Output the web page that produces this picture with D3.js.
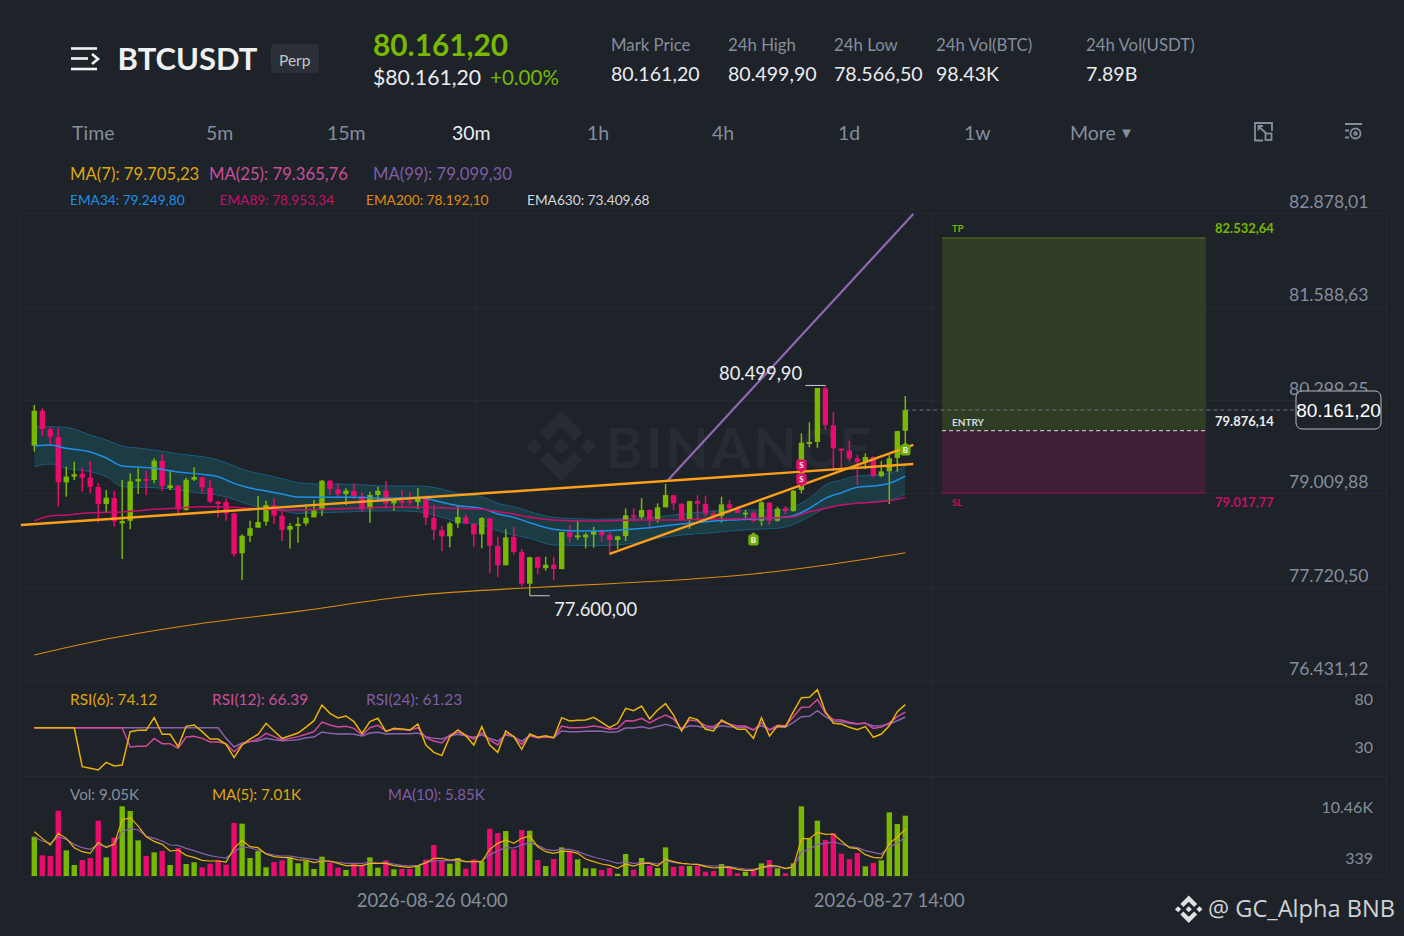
<!DOCTYPE html>
<html>
<head>
<meta charset="utf-8">
<style>
  html, body { margin: 0; padding: 0; background: #1e2229; overflow: hidden; }
  svg { display: block; }
  text { font-family: Lato, "Noto Sans", sans-serif; }
</style>
<script src="https://cdnjs.cloudflare.com/ajax/libs/d3/7.8.5/d3.min.js"></script>
</head>
<body>
<svg width="1404" height="936"></svg>
<script>
// candles, 30m
const candleOpen = [
  79668,80151,79895,79788,79164,79242,79279,79228,79100,78865,
  78948,78598,78634,79178,79210,79196,79458,79085,79117,78782,
  79200,79232,79090,78897,78892,78736,78185,78427,78538,78622,
  78847,78704,78510,78561,78598,78681,78792,79186,79067,79003,
  79044,78975,78800,78989,79048,78874,78910,78906,78892,78957,
  78672,78502,78419,78598,78681,78589,78447,78668,78285,78020,
  78410,78203,77766,78134,77980,78028,77968,78483,78405,78405,
  78442,78492,78437,78368,78423,78709,78686,78782,78658,78819,
  78985,78869,78653,78906,78865,78736,78699,78860,78805,78722,
  78745,78634,78883,78634,78805,78768,79058,79692,79720,80460,
  79950,79628,79600,79495,79445,79513,79251,79315,79500,79875
];
const candleClose = [
  80151,79899,79793,79164,79242,79275,79228,79104,78865,78952,
  78626,78630,79178,79210,79186,79462,79113,79122,78792,79200,
  79237,79095,78897,78865,78736,78175,78427,78532,78617,78851,
  78704,78510,78561,78593,78676,78778,79186,79072,79003,79048,
  78975,78791,78989,79048,78874,78920,78883,78883,78957,78676,
  78510,78419,78598,78685,78593,78447,78672,78290,78020,78405,
  78203,77766,78130,77986,78028,77968,78479,78410,78433,78442,
  78497,78433,78368,78419,78709,78686,78782,78658,78819,78989,
  78874,78644,78906,78869,78731,78699,78860,78805,78745,78745,
  78630,78888,78634,78800,78768,79048,79710,79720,80465,79955,
  79633,79600,79495,79445,79513,79251,79315,79495,79870,80161.2
];
const candleHigh = [
  80230,80184,79922,79917,79380,79449,79362,79458,79150,79058,
  79048,79196,79288,79357,79324,79495,79550,79334,79122,79228,
  79371,79237,79196,78910,78943,78745,78447,78634,78975,78910,
  78943,78772,78598,78681,78865,78920,79196,79196,79150,79081,
  79150,79021,79035,79104,79178,78943,79058,79035,79081,78989,
  78851,78561,78621,78851,78727,78598,78681,78676,78414,78516,
  78552,78244,78138,78138,78138,78138,78479,78575,78644,78469,
  78552,78516,78483,78428,78805,78805,78943,78791,78874,79141,
  78989,78874,78910,78985,78980,78772,78966,78920,78837,78782,
  78768,78906,78892,78828,78837,79058,79839,79992,80465,80499.9,
  80130,79633,79740,79540,79565,79527,79458,79540,79875,80354
];
const candleLow = [
  79587,79802,79692,78828,78966,79196,79035,79012,78607,78736,
  78552,78106,78516,79003,78985,79150,79044,79058,78713,78772,
  79182,79012,78874,78681,78634,78138,77816,78340,78538,78566,
  78589,78354,78253,78331,78566,78681,78700,78989,78957,78851,
  78929,78759,78607,78897,78796,78772,78819,78851,78796,78575,
  78368,78216,78268,78538,78589,78276,78255,77918,77854,78020,
  78166,77725,77600,77895,77945,77816,77964,78331,78368,78253,
  78262,78345,78161,78244,78354,78621,78644,78524,78607,78819,
  78782,78644,78524,78653,78690,78658,78607,78736,78736,78644,
  78607,78566,78575,78621,78727,78759,79012,79647,79640,79885,
  79320,79320,79460,79127,79348,79233,79233,78865,79310,79665
];

// EMA ribbon, sampled at these candles
const emaIndex = [0,2,4,7,9,11,13,15,18,21,23,25,27,29,31,33,36,40,44,48,51,53,56,58,60,62,65,67,70,75,78,81,84,87,90,93,95,97,99,101,103,105,107,109];
const ema34 = [79665,79678,79633,79582,79499,79389,79375,79357,79306,79275,79242,79150,79085,79044,79003,78961,78957,78957,78943,78957,78888,78842,78805,78727,78681,78607,78516,78497,78492,78520,78552,78589,78621,78644,78658,78676,78704,78805,78943,79021,79095,79113,79150,79249.8];
const emaUpper = [79927,79931,79922,79816,79747,79665,79637,79610,79555,79518,79472,79389,79311,79265,79214,79159,79141,79137,79113,79113,79072,79012,78966,78875,78828,78759,78681,78668,78654,78668,78690,78727,78759,78782,78782,78782,78828,78943,79127,79196,79251,79265,79288,79389];
const emaLower = [79380,79417,79357,79311,79242,79104,79095,79090,79058,79012,78989,78930,78851,78805,78772,78736,78745,78759,78772,78759,78681,78621,78575,78497,78437,78392,78300,78296,78290,78323,78392,78437,78461,78492,78516,78530,78585,78690,78805,78851,78875,78897,78920,79003];
const ema89 = [78635,78700,78713,78745,78750,78755,78772,78792,78810,78828,78828,78820,78805,78792,78782,78782,78792,78805,78820,78820,78813,78805,78792,78759,78727,78681,78644,78635,78630,78644,78644,78644,78658,78658,78668,78676,78690,78759,78805,78851,78875,78888,78910,78953.34];
const ema200Index = [0,8,20,33,47,62,72,90,100,109];
const ema200 = [76783,76980,77203,77384,77597,77711,77766,77900,78038,78192.1];

// drawn trendlines: candle index and price at each end
const trendA = [[-1.67,78575],[110,79417]];
const trendB = [[72,78176],[110,79679]];
const trendC = [[79.2,79183],[110,82864]];

// trade zone
const zoneStart = 113.6, zoneEnd = 146.6;
const tpPrice = 82532.64, entryPrice = 79876.14, slPrice = 79017.77;
const lastPrice = 80161.20, highPrice = 80499.90, lowPrice = 77600.00;

const buySignals = [[90,78368],[109,79610]];
const sellSignals = [[96,79402],[96,79209]];

const priceTicks = [82878.01,81588.63,80299.25,79009.88,77720.50,76431.12];
const rsiTicks = [80,30];
const volTicks = [10460,339];
const timeTicks = [[49.8,'2026-08-26 04:00'],[107,'2026-08-27 14:00']];
const tabs = [['Time',72],['5m',206],['15m',327],['30m',452],['1h',587],['4h',712],['1d',838],['1w',964],['More',1070]];
const stats = [['Mark Price','80.161,20',611],['24h High','80.499,90',728],['24h Low','78.566,50',834],['24h Vol(BTC)','98.43K',936],['24h Vol(USDT)','7.89B',1086]];

const rsi6 = [
  50,50,50,50,50,50,9.5,7.8,6.0,14.0,
  10.2,11.2,46.0,47.4,47.4,60.6,43.2,43.2,30.3,51.5,
  52.9,46.0,38.3,38.3,32.8,18.9,32.1,38.3,43.2,54.7,
  46.7,39.0,41.8,44.6,50.8,57.4,73.8,65.1,60.2,62.3,
  56.4,44.2,56.4,59.9,46.0,49.4,48.7,47.7,54.0,32.1,
  24.4,21.0,40.8,47.7,41.8,32.1,51.2,32.1,24.4,46.7,
  40.8,27.6,43.5,40.1,41.8,39.7,60.6,57.1,57.8,58.1,
  60.9,55.7,50.1,54.7,70.3,67.8,72.7,59.2,68.5,75.1,
  63.3,46.7,60.9,58.5,48.4,46.7,58.1,53.6,48.4,48.4,
  39.0,60.6,41.5,52.2,51.2,66.8,81.4,81.7,89.7,66.8,
  54.7,54.0,50.5,48.1,51.2,40.1,43.5,52.2,66.8,74.12
];
const rsi12 = [
  50,50,50,50,50,50,50,50,50,50,
  50,50,30.0,30.7,30.7,39.0,33.5,33.5,28.6,40.4,
  41.1,39.0,35.2,35.2,33.5,25.1,32.8,35.6,38.3,44.2,
  40.8,37.3,39.0,40.8,43.2,46.0,56.0,52.9,50.8,51.5,
  49.4,42.5,50.1,52.6,46.7,48.4,48.1,47.7,50.1,39.7,
  36.2,34.2,42.5,45.3,42.5,38.3,44.9,37.3,32.1,43.9,
  40.8,32.8,41.8,39.7,40.4,39.7,51.9,50.1,50.1,50.5,
  51.9,50.5,48.4,49.4,57.4,57.1,59.9,55.0,59.5,63.3,
  59.2,48.7,58.1,57.1,52.2,51.2,56.4,53.6,51.9,51.9,
  47.7,55.3,47.7,52.6,52.2,61.6,71.3,71.7,79.6,65.1,
  58.5,58.1,55.7,54.3,55.0,49.4,50.8,55.0,61.6,66.39
];
const rsi24 = [
  50,50,50,50,50,50,50,50,50,50,
  50,50,50,50,50,50,50,50,50,50,
  50,50,50,50,39.0,30.0,34.2,35.6,36.2,39.0,
  37.6,36.6,36.9,37.6,39.7,40.4,45.6,44.2,43.5,43.9,
  43.2,41.5,44.6,45.3,43.5,43.9,43.9,43.9,44.6,40.8,
  39.0,38.3,41.5,43.2,41.5,40.1,42.5,39.0,36.2,42.5,
  40.8,36.2,41.8,39.7,40.4,39.7,46.7,46.0,46.0,46.3,
  46.7,46.3,45.3,46.0,49.8,49.8,51.2,49.4,51.5,53.6,
  51.5,48.7,52.2,51.5,50.1,49.8,52.2,51.2,50.5,50.5,
  48.1,52.2,48.1,50.5,50.5,55.7,61.6,62.0,67.8,61.6,
  57.1,56.4,54.7,54.0,54.7,51.9,52.2,54.0,57.4,61.23
];

const volume = [
  5900,3100,3000,9800,3850,1650,2400,2700,8300,2800,
  5750,10460,9750,5350,3000,3550,3750,1650,4200,1800,
  2050,1300,1850,2350,1700,7950,7850,2700,3750,1300,
  2100,2350,2750,1900,2300,1050,2900,2000,1250,900,
  1900,1600,2800,1250,2350,1000,1050,1050,1500,2450,
  4650,2250,1850,2700,1100,2500,2200,7100,6450,6750,
  4000,6900,6800,2400,1500,2550,4300,3750,2500,1150,
  1150,900,1200,339,3300,950,2700,1550,1200,4300,
  1350,1500,1500,1550,650,750,1800,1250,400,650,
  750,1900,2400,1150,400,1900,10460,5650,8300,5400,
  6400,3350,2500,3450,1450,1950,2350,9550,7800,9050
];
const volMa5 = [
  6650,5650,4650,6400,5650,4250,3650,3400,5050,4250,
  4800,8400,8750,7500,5900,5200,4750,3750,3900,3100,
  2800,2350,2250,2250,2100,4150,5350,4400,4250,3300,
  2900,2800,2750,2400,2400,2000,2250,2250,1900,1550,
  1600,1550,1900,1900,1900,1550,1400,1300,1500,2000,
  2650,2650,2400,2500,2150,2150,2150,4000,4900,5400,
  4900,5650,6000,4400,3650,3400,3700,3700,3400,2550,
  2150,1800,1600,1150,1800,1500,1900,1900,1500,2500,
  2150,1900,1800,1750,1400,1200,1300,1300,1000,850,
  850,1250,1600,1500,1100,1400,5600,5600,6550,6250,
  6300,5250,4250,4100,3200,2800,2700,4900,5800,7010
];
const volMa10 = [
  5800,5250,4900,5900,5500,4750,4250,4000,4750,4400,
  4750,6650,7150,6900,6000,5650,5250,4650,4600,4150,
  3800,3400,3050,2850,2700,3650,4400,4200,3900,3400,
  3150,3000,3000,2800,2650,2500,2350,2150,2100,1900,
  1900,1900,2100,1900,2000,1800,1600,1500,1600,2000,
  2250,2300,2300,2300,2150,2200,2250,3150,3800,4250,
  4200,4650,5050,4600,4000,3800,4000,4000,3700,3200,
  2850,2550,2250,1900,2100,1900,2000,2000,1800,2250,
  2050,1900,1800,1750,1550,1500,1500,1400,1200,1050,
  1000,1250,1400,1400,1150,1300,3650,4000,4750,4900,
  5100,4800,4400,4250,3800,3550,3300,4400,4900,5850
];

const GREEN = '#78b800', RED = '#ea0b6e', GREY = '#848e9c', GRID = '#252a31', LIGHT = '#eaecef';

const svg = d3.select('svg');

// scales
const x = d3.scaleLinear().domain([0, 109]).range([34.3, 905.3]);
const y = d3.scaleLinear().domain([76431.12, 82878.01]).range([680.5, 213]);
const yRsi = d3.scaleLinear().domain([30, 80]).range([747, 699]);
const yVol = d3.scaleLinear().domain([0, 10460]).range([876, 806.3]);
const yVolAxis = d3.scaleLinear().domain([339, 10460]).range([858, 807]);

const euro = d3.formatLocale({ decimal: ',', thousands: '.', grouping: [3], currency: ['', ''] });
const fmtPrice = euro.format(',.2f');
const fmtVol = d => d >= 1000 ? (d / 1000).toFixed(2) + 'K' : d;

const label = (g, tx, ty, str, size, fill, weight, font) => g.append('text')
  .attr('x', tx).attr('y', ty).attr('dy', '0.35em')
  .attr('font-size', size).attr('fill', fill)
  .attr('font-weight', weight || 400)
  .style('font-family', font || null)
  .text(str);

// binance mark, 32 unit box
const logoPath = 'M9.8 13.4 16 7.2l6.2 6.2 3.6-3.6L16 0 6.2 9.8zM0 16l3.6-3.6L7.2 16l-3.6 3.6zM9.8 18.6 16 24.8l6.2-6.2 3.6 3.6L16 32 6.2 22.2zM24.8 16l3.6-3.6L32 16l-3.6 3.6zM19.6 16 16 19.6 12.4 16 16 12.4z';

// grid
const grid = svg.append('g').attr('stroke', GRID).attr('stroke-width', 1);
grid.selectAll('.h').data(priceTicks).enter().append('line')
  .attr('x1', 20).attr('x2', 1387)
  .attr('y1', d => Math.round(y(d)) + 0.5).attr('y2', d => Math.round(y(d)) + 0.5);
[776.5, 876.5].forEach(v => grid.append('line').attr('x1', 20).attr('x2', 1387).attr('y1', v).attr('y2', v));
[20.5, 476.5, 932.5, 1386.5].forEach(v => grid.append('line').attr('x1', v).attr('x2', v).attr('y1', 213).attr('y2', 876));

// watermark
svg.append('path').attr('d', logoPath).attr('fill', '#272b33')
  .attr('transform', 'translate(526,411) scale(2.2)');
label(svg, 606, 448, 'BINANCE', 56, '#272b33', 700).attr('letter-spacing', 3);

// trade zone
const zone = svg.append('g');
zone.append('rect').attr('x', x(zoneStart)).attr('width', x(zoneEnd) - x(zoneStart))
  .attr('y', y(tpPrice)).attr('height', y(entryPrice) - y(tpPrice)).attr('fill', '#303d25');
zone.append('rect').attr('x', x(zoneStart)).attr('width', x(zoneEnd) - x(zoneStart))
  .attr('y', y(entryPrice)).attr('height', y(slPrice) - y(entryPrice)).attr('fill', '#3e1f35');
zone.append('line').attr('x1', x(zoneStart)).attr('x2', x(zoneEnd)).attr('y1', y(tpPrice)).attr('y2', y(tpPrice))
  .attr('stroke', '#5a7a1c').attr('stroke-width', 1);
zone.append('line').attr('x1', x(zoneStart)).attr('x2', x(zoneEnd)).attr('y1', y(slPrice)).attr('y2', y(slPrice))
  .attr('stroke', '#8a1050').attr('stroke-width', 1.2);
label(zone, 952, 229, 'TP', 9.5, GREEN, 700);
label(zone, 952, 422, 'ENTRY', 10, '#d8dade', 700);
label(zone, 952, 503, 'SL', 9.5, '#c40f63', 700);
label(zone, 1215, 228, fmtPrice(tpPrice), 13, GREEN, 700);
label(zone, 1215, 421, fmtPrice(entryPrice), 13, LIGHT, 700);
label(zone, 1215, 502, fmtPrice(slPrice), 13, '#c40f63', 700);

// last price line runs behind the zone labels
svg.append('line').attr('x1', x(109)).attr('x2', 1296).attr('y1', y(lastPrice)).attr('y2', y(lastPrice))
  .attr('stroke', '#6d737c').attr('stroke-width', 1).attr('stroke-dasharray', '4 3');
zone.append('line').attr('x1', x(zoneStart)).attr('x2', x(zoneEnd)).attr('y1', y(entryPrice)).attr('y2', y(entryPrice))
  .attr('stroke', '#b8bbc0').attr('stroke-width', 1.3).attr('stroke-dasharray', '4 3');

// ema ribbon
const ribbon = emaIndex.map((d, i) => ({ i: d, upper: emaUpper[i], lower: emaLower[i], mid: ema34[i], slow: ema89[i] }));
svg.append('path').datum(ribbon)
  .attr('fill', '#1c3b43')
  .attr('d', d3.area().curve(d3.curveMonotoneX).x(d => x(d.i)).y0(d => y(d.lower)).y1(d => y(d.upper)));
const emaLine = key => d3.line().curve(d3.curveMonotoneX).x(d => x(d.i)).y(d => y(d[key]));
[['upper', '#1b5a7d', 1], ['lower', '#1b5a7d', 1]].forEach(([k, c, w]) => {
  svg.append('path').datum(ribbon).attr('fill', 'none').attr('stroke', c).attr('stroke-width', w).attr('d', emaLine(k));
});

// candles
const candles = candleOpen.map((o, i) => ({ i, o, c: candleClose[i], h: candleHigh[i], l: candleLow[i], v: volume[i] }));
const colour = d => d.c >= d.o ? GREEN : RED;
const candle = svg.append('g').selectAll('g').data(candles).enter().append('g');
candle.append('line')
  .attr('x1', d => x(d.i)).attr('x2', d => x(d.i))
  .attr('y1', d => y(d.h)).attr('y2', d => y(d.l))
  .attr('stroke', colour).attr('stroke-width', 1.5);
candle.append('rect')
  .attr('x', d => x(d.i) - 2.7).attr('width', 5.4)
  .attr('y', d => y(Math.max(d.o, d.c)))
  .attr('height', d => Math.max(1.5, Math.abs(y(d.o) - y(d.c))))
  .attr('fill', colour);

// ema lines over the candles
svg.append('path').datum(ribbon).attr('fill', 'none').attr('stroke', '#1f8fe6').attr('stroke-width', 1.5).attr('d', emaLine('mid'));
svg.append('path').datum(ribbon).attr('fill', 'none').attr('stroke', '#c8106a').attr('stroke-width', 1.5).attr('d', emaLine('slow'));
svg.append('path').datum(ema200).attr('fill', 'none').attr('stroke', '#d98c12').attr('stroke-width', 1.1)
  .attr('d', d3.line().curve(d3.curveMonotoneX).x((d, i) => x(ema200Index[i])).y(d => y(d)));

// trendlines
const trend = d3.line().x(d => x(d[0])).y(d => y(d[1]));
svg.append('path').datum(trendC).attr('fill', 'none').attr('stroke', '#8f68b2').attr('stroke-width', 2.2).attr('d', trend);
[trendA, trendB].forEach(t => svg.append('path').datum(t).attr('fill', 'none').attr('stroke', '#ff9e18').attr('stroke-width', 2.4).attr('d', trend));

// buy and sell badges
const badge = (d, txt, fill, up) => {
  const g = svg.append('g').attr('transform', `translate(${x(d[0])},${y(d[1])})`);
  g.append('path').attr('d', up ? 'M-3 -5L0 -8L3 -5Z' : 'M-3 5L0 8L3 5Z').attr('fill', fill);
  g.append('rect').attr('x', -5.2).attr('y', -5.5).attr('width', 10.4).attr('height', 11).attr('rx', 2.5).attr('fill', fill);
  g.append('text').attr('text-anchor', 'middle').attr('y', 3).attr('font-size', 8).attr('font-weight', 700).attr('fill', '#fff').text(txt);
};
buySignals.forEach(d => badge(d, 'B', '#6fae08', true));
sellSignals.forEach(d => badge(d, 'S', '#e20c6b', false));

// high and low tags
svg.append('line').attr('x1', x(99) - 20).attr('x2', x(99)).attr('y1', y(highPrice)).attr('y2', y(highPrice)).attr('stroke', '#c9ccd1');
label(svg, 719, 373.5, fmtPrice(highPrice), 18.4, LIGHT);
svg.append('line').attr('x1', x(62)).attr('x2', x(62) + 20).attr('y1', y(lowPrice)).attr('y2', y(lowPrice)).attr('stroke', '#c9ccd1');
label(svg, 554, 610, fmtPrice(lowPrice), 18.4, LIGHT);

// price axis, labels sit above their gridline
const priceAxis = svg.append('g').attr('transform', 'translate(1368.5,0)')
  .call(d3.axisLeft(y).tickValues(priceTicks).tickFormat(fmtPrice).tickSize(0));
priceAxis.select('.domain').remove();
priceAxis.selectAll('text').attr('x', 0).attr('dy', '-0.34em').attr('fill', GREY).attr('font-size', 17.6)
  .style('font-family', 'Lato, sans-serif');

// last price box
svg.append('rect').attr('x', 1296).attr('y', 391).attr('width', 85).attr('height', 38).attr('rx', 6)
  .attr('fill', '#1e2229').attr('stroke', '#b6b9be').attr('stroke-width', 1);
svg.append('text').attr('x', 1338.5).attr('y', y(lastPrice)).attr('dy', '0.35em').attr('text-anchor', 'middle')
  .attr('font-size', 19).attr('fill', '#fff').style('font-family', '"Liberation Sans", sans-serif')
  .text(fmtPrice(lastPrice));

// rsi pane
const rsiLine = d3.line().x((d, i) => x(i)).y(d => yRsi(d));
[[rsi24, '#8a62ad'], [rsi12, '#d3489b'], [rsi6, '#eab308']].forEach(([s, c]) => {
  svg.append('path').datum(s).attr('fill', 'none').attr('stroke', c).attr('stroke-width', 1.5).attr('d', rsiLine);
});
const rsiAxis = svg.append('g').attr('transform', 'translate(1373,0)')
  .call(d3.axisLeft(yRsi).tickValues(rsiTicks).tickSize(0));
rsiAxis.select('.domain').remove();
rsiAxis.selectAll('text').attr('x', 0).attr('fill', GREY).attr('font-size', 16).style('font-family', 'Lato, sans-serif');

// volume pane
svg.append('g').selectAll('rect').data(candles).enter().append('rect')
  .attr('x', d => x(d.i) - 2.7).attr('width', 5.4)
  .attr('y', d => yVol(d.v)).attr('height', d => yVol(0) - yVol(d.v))
  .attr('fill', colour);
const volLine = d3.line().x((d, i) => x(i)).y(d => yVol(d));
svg.append('path').datum(volMa10).attr('fill', 'none').attr('stroke', '#8a62ad').attr('stroke-width', 1.2).attr('d', volLine);
svg.append('path').datum(volMa5).attr('fill', 'none').attr('stroke', '#eab308').attr('stroke-width', 1.2).attr('d', volLine);
const volAxis = svg.append('g').attr('transform', 'translate(1373,0)')
  .call(d3.axisLeft(yVolAxis).tickValues(volTicks).tickFormat(fmtVol).tickSize(0));
volAxis.select('.domain').remove();
volAxis.selectAll('text').attr('x', 0).attr('fill', GREY).attr('font-size', 16).style('font-family', 'Lato, sans-serif');

// time axis
svg.append('g').selectAll('text').data(timeTicks).enter().append('text')
  .attr('x', d => x(d[0])).attr('y', 901).attr('dy', '0.35em').attr('text-anchor', 'middle')
  .attr('font-size', 18.4).attr('fill', GREY).text(d => d[1]);

// legends
label(svg, 70, 174.5, 'MA(7): 79.705,23', 16.7, '#dfa70f');
label(svg, 209, 174.5, 'MA(25): 79.365,76', 16.7, '#c8509b');
label(svg, 373, 174.5, 'MA(99): 79.099,30', 16.7, '#7f5ea6');
label(svg, 70, 200, 'EMA34: 79.249,80', 13.7, '#1f8fe6');
label(svg, 219.5, 200, 'EMA89: 78.953,34', 13.7, '#c8106a');
label(svg, 366, 200, 'EMA200: 78.192,10', 13.7, '#e08a0f');
label(svg, 527, 200, 'EMA630: 73.409,68', 13.7, '#d5d8dc');
label(svg, 70, 699.5, 'RSI(6): 74.12', 15.5, '#dfa70f');
label(svg, 212, 699.5, 'RSI(12): 66.39', 15.5, '#c8509b');
label(svg, 366, 699.5, 'RSI(24): 61.23', 15.5, '#7f5ea6');
label(svg, 70, 794.5, 'Vol: 9.05K', 15.2, GREY);
label(svg, 212, 794.5, 'MA(5): 7.01K', 15.2, '#dfa70f');
label(svg, 388, 794.5, 'MA(10): 5.85K', 15, '#7f5ea6');

// header
const menu = svg.append('g').attr('stroke', '#f2f3f5').attr('stroke-width', 2.6).attr('fill', 'none');
menu.append('line').attr('x1', 71).attr('x2', 97).attr('y1', 48.5).attr('y2', 48.5);
menu.append('line').attr('x1', 71).attr('x2', 88).attr('y1', 58.5).attr('y2', 58.5);
menu.append('line').attr('x1', 71).attr('x2', 97).attr('y1', 69).attr('y2', 69);
menu.append('path').attr('d', 'M92 54L98 59L92 64');
label(svg, 117.5, 59, 'BTCUSDT', 31, '#eff0f2', 700);
svg.append('rect').attr('x', 271).attr('y', 44).attr('width', 48).attr('height', 29).attr('rx', 4).attr('fill', '#2b3038');
label(svg, 279, 60.5, 'Perp', 15.5, '#c2c6cc');
label(svg, 373, 45.5, '80.161,20', 29.8, GREEN, 700);
label(svg, 373, 78, '$80.161,20', 21.2, LIGHT);
label(svg, 490, 78, '+0.00%', 20.5, GREEN);
stats.forEach(s => {
  label(svg, s[2], 45, s[0], 16.8, GREY);
  label(svg, s[2], 74, s[1], 19.6, LIGHT);
});
tabs.forEach(t => label(svg, t[1], 133, t[0], 19.5, t[0] === '30m' ? LIGHT : GREY));
label(svg, 1119, 133, '▼', 15, GREY);

// toolbar icons
const ic = svg.append('g').attr('stroke', GREY).attr('stroke-width', 1.8).attr('fill', 'none');
ic.append('path').attr('d', 'M1263 140.5H1255V123H1272V131');
ic.append('rect').attr('x', 1265.5).attr('y', 133.5).attr('width', 6).attr('height', 6.5);
ic.append('path').attr('d', 'M1258 126L1266 133M1258.5 130.5V126H1263');
ic.append('path').attr('d', 'M1345 124H1362M1345 130.5H1349M1345 137.5H1349');
ic.append('circle').attr('cx', 1355.5).attr('cy', 133.5).attr('r', 5);
ic.append('circle').attr('cx', 1355.5).attr('cy', 133.5).attr('r', 1.3);

// footer mark
svg.append('path').attr('d', logoPath).attr('fill', '#dfe1e4')
  .attr('transform', 'translate(1175,895.5) scale(0.86)');
label(svg, 1208, 909, '@ GC_Alpha BNB', 23.6, '#cfd2d6', 400, '"Open Sans", sans-serif');
</script>
</body>
</html>
